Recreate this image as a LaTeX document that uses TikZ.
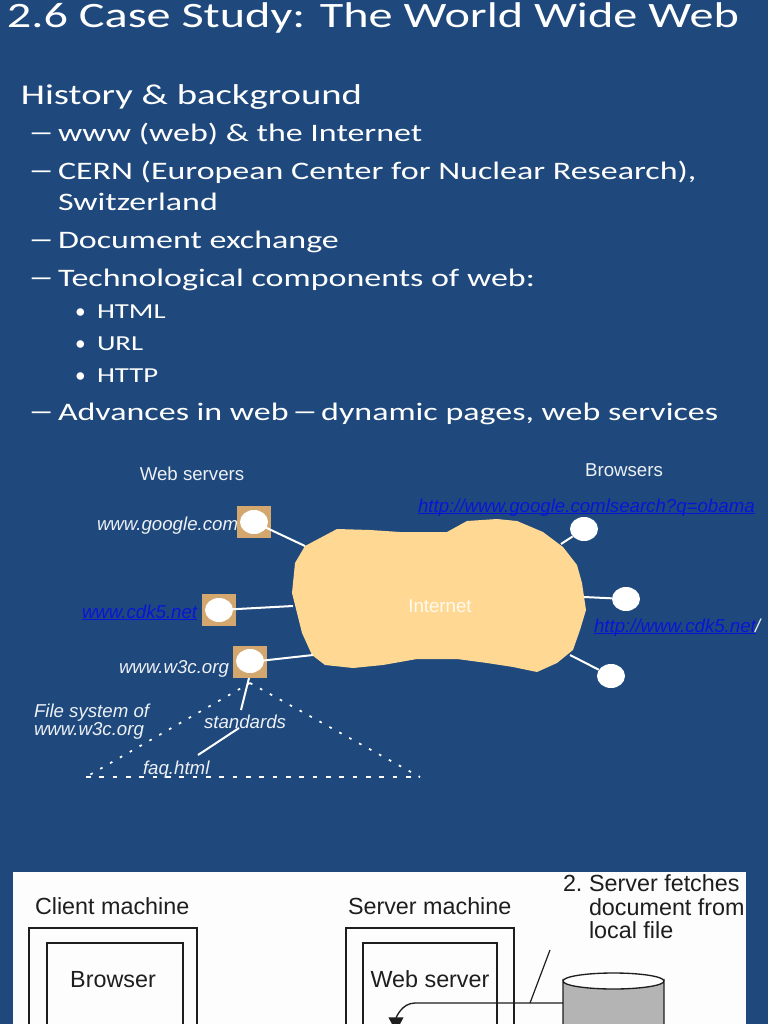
\documentclass[tikz,border=0pt]{standalone}
\usepackage{graphicx}
\usepackage{fontspec}
\setmainfont[FakeStretch=1.35]{Carlito}
\newfontfamily\arialf{Liberation Sans}
\usetikzlibrary{arrows.meta,shapes.geometric}
\definecolor{bgblue}{HTML}{1F497C}
\definecolor{cloudc}{HTML}{FFD993}
\definecolor{tanbox}{HTML}{D3A76E}
\definecolor{linkblue}{HTML}{0A14D8}
\definecolor{cylgray}{HTML}{B4B4B4}
\definecolor{paper}{HTML}{FDFDFD}
\definecolor{ink}{HTML}{1E1E1E}
\newcommand{\lnk}[1]{\leavevmode\setbox0\hbox{#1}\rlap{\copy0}\raisebox{-1.3pt}{\hbox to \wd0{\leaders\hrule height .7pt\hfill}}}
\newcommand{\longdash}{\scalebox{1.55}[1.1]{–}}
\newcommand{\roundbul}{\scalebox{.74}[1]{•}}
\tikzset{
  x=0.75pt,y=-0.75pt,
  slide/.style={anchor=base west,inner sep=0pt,outer sep=0pt,text=white,font=\fontsize{18.87}{22}\selectfont},
  subitem/.style={anchor=base west,inner sep=0pt,outer sep=0pt,text=white,font=\fontsize{16}{18}\selectfont},
  heading/.style={anchor=base west,inner sep=0pt,outer sep=0pt,text=white,font=\fontsize{25}{28}\selectfont},
  lab/.style={anchor=base west,inner sep=0pt,outer sep=0pt,text=white!92!bgblue,font=\arialf\itshape\fontsize{14}{14}\selectfont},
  labplain/.style={anchor=base,inner sep=0pt,outer sep=0pt,text=white!92!bgblue,font=\arialf\fontsize{14}{14}\selectfont},
  linkt/.style={anchor=base west,inner sep=0pt,outer sep=0pt,text=linkblue,font=\arialf\itshape\fontsize{14}{14}\selectfont},
  tanb/.style={fill=tanbox,draw=none,minimum width=25.5pt,minimum height=23.5pt,inner sep=0pt},
  hole/.style={fill=white,draw=none,ellipse,minimum width=21pt,minimum height=18pt,inner sep=0pt},
  wire/.style={white,line width=1.5pt},
  dots/.style={white,line width=1.3pt,dash pattern=on 2pt off 6.5pt},
  bl/.style={anchor=base west,inner sep=0pt,outer sep=0pt,text=ink,font=\arialf\fontsize{17.5}{17}\selectfont},
  boxo/.style={draw=ink,line width=1.6pt},
  boxi/.style={draw=ink,line width=0.8pt},
}
\begin{document}
\begin{tikzpicture}
\useasboundingbox (0,0) rectangle (768,1024);
\clip (0,0) rectangle (768,1024);
\fill[bgblue] (0,0) rectangle (768,1024);

\node[heading,font=\fontsize{26.8}{30}\selectfont] (title) at (7,28) {2.6 Case Study: The World Wide Web};
\node[heading,font=\fontsize{21.5}{24}\selectfont] (hist) at (21,104) {History \& background};
\node[slide] (t1) at (28,141) {\longdash};
\node[slide] (t1b) at (58,141) {www (web) \& the Internet};
\node[slide] (t2) at (28,179) {\longdash};
\node[slide] (t2b) at (58,179) {CERN (European Center for Nuclear Research),};
\node[slide] (t2c) at (58,210) {Switzerland};
\node[slide] (t3) at (28,248) {\longdash};
\node[slide] (t3b) at (58,248) {Document exchange};
\node[slide] (t4) at (28,286) {\longdash};
\node[slide] (t4b) at (58,286) {Technological components of web:};
\node[subitem] (b1) at (75,318) {\roundbul};
\node[subitem] (b1t) at (97,318) {HTML};
\node[subitem] (b2) at (75,350) {\roundbul};
\node[subitem] (b2t) at (97,350) {URL};
\node[subitem] (b3) at (75,382) {\roundbul};
\node[subitem] (b3t) at (97,382) {HTTP};
\node[slide] (t5) at (28,420) {\longdash};
\node[slide] (t5b) at (58,420) {Advances in web \kern-3.4pt\longdash\kern-3.4pt{} dynamic pages, web services};

% internet cloud
\fill[cloudc] (337,529) -- (305,546) -- (295,563) -- (292,593) -- (302,633) -- (312,655)
  -- (325,665) -- (353,668) -- (383,665) -- (417,659) -- (457,659) -- (487,663) -- (513,667)
  -- (537,672) -- (557,663) -- (573,650) -- (580,630) -- (586,610) -- (582,583) -- (577,565)
  -- (563,547) -- (543,532) -- (517,521) -- (497,519) -- (467,521) -- (447,532) -- (400,532)
  -- (370,530) -- cycle;
\node[inner sep=0pt,text=white!85!cloudc,font=\arialf\fontsize{14}{14}\selectfont] (inet) at (440,606) {Internet};

\coordinate (c1) at (305,546);
\coordinate (c2) at (293,606);
\coordinate (c3) at (313,655);
\coordinate (c4) at (561,544);
\coordinate (c5) at (584,597);
\coordinate (c6) at (570,655);
\coordinate (s3b) at (249,678);
\coordinate (std1) at (241,710);
\coordinate (std2) at (239,728);
\coordinate (faq1) at (198,755);

\node[labplain] (ws) at (192,480) {Web servers};
\node[labplain] (br) at (624,476) {Browsers};

\node[tanb] (s1) at (254,522) {};
\node[tanb] (s2) at (219,610) {};
\node[tanb] (s3) at (250,662) {};
\draw[wire] (s1.center) -- (c1);
\draw[wire] (s2.center) -- (c2);
\draw[wire] (s3.center) -- (c3);
\node[hole] (h1) at (254,522) {};
\node[hole] (h2) at (219,610) {};
\node[hole] (h3) at (250,661) {};

\node[hole] (b1c) at (584,529) {};
\node[hole] (b2c) at (626,599) {};
\node[hole] (b3c) at (611,676) {};
\draw[wire] (c4) -- (b1c);
\draw[wire] (c5) -- (b2c);
\draw[wire] (c6) -- (b3c);

\node[lab] (g) at (97,530) {www.google.com};
\node[linkt] (cdk) at (82,618) {\lnk{www.cdk5.net}};
\node[lab] (w3) at (119,673) {www.w3c.org};
\node[lab] (fs1) at (34,717) {File system of};
\node[lab] (fs2) at (34,735) {www.w3c.org};
\node[lab] (std) at (204,728) {standards};
\node[lab] (faq) at (143,774) {faq.html};
\node[linkt] (gs) at (418,512) {\lnk{http://www.google.comlsearch?q=obama}};
\node[linkt] (cd2) at (594,632) {\lnk{http://www.cdk5.net}};
\node[lab] (sl) at (755,632) {/};

% file system tree
\coordinate (apex) at (250,683);
\coordinate (tl) at (86,777);
\coordinate (tr) at (420,777);
\draw[dots] (apex) -- (tl);
\draw[dots] (apex) -- (tr);
\draw[white,line width=1pt,dash pattern=on 3.5pt off 6.5pt] (tl) -- (tr);
\draw[wire] (s3b) -- (std1);
\draw[wire] (std2) -- (faq1);

% lower figure
\fill[paper] (13,872) rectangle (746,1024);
\node[bl] (cm) at (35,914) {Client machine};
\node[bl] (sm) at (348,914) {Server machine};
\node[bl] (f1) at (563,891) {2.\kern-1.5pt{} Server fetches};
\node[bl] (f2) at (589,915) {document from};
\node[bl] (f3) at (589,938) {local file};
\draw[boxo] (29,928) rectangle (197,1040);
\draw[boxi] (47,943) rectangle (183,1040);
\draw[boxo] (346,928) rectangle (514,1040);
\draw[boxi] (363,943) rectangle (497,1040);
\node[anchor=base,inner sep=0pt,text=ink,font=\arialf\fontsize{17.5}{17}\selectfont] (brw) at (113,987) {Browser};
\node[anchor=base,inner sep=0pt,text=ink,font=\arialf\fontsize{17.5}{17}\selectfont] (wsv) at (430,987) {Web server};

% disk
\fill[cylgray] (563,981) -- (563,1040) -- (664,1040) -- (664,981) -- cycle;
\fill[paper] (613.5,981) ellipse [x radius=50.5,y radius=8];
\draw[ink,line width=1pt] (563,1040) -- (563,981) arc[start angle=180,end angle=0,x radius=50.5,y radius=8] -- (664,1040);
\draw[ink,line width=1pt] (563,981) arc[start angle=180,end angle=360,x radius=50.5,y radius=8];
\coordinate (dsk) at (563,1003);
\coordinate (tip) at (396,1032);
\coordinate (ltop) at (550,950);
\coordinate (lbot) at (530,1003);
\draw[ink,line width=0.9pt] (ltop) -- (lbot);
\draw[ink,line width=1pt,-{Triangle[length=11pt,width=11pt]}] (dsk) -- (415,1003) to[out=180,in=90] (tip);
\end{tikzpicture}
\end{document}
